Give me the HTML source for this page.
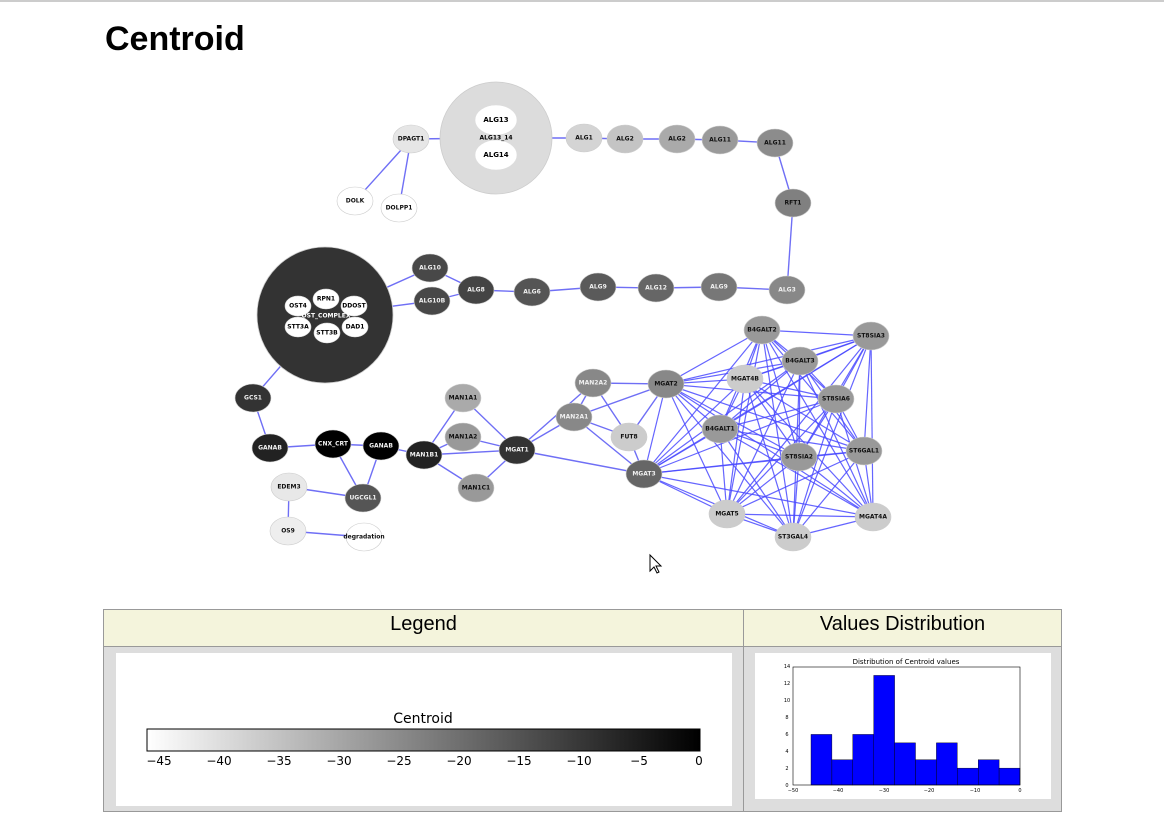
<!DOCTYPE html>
<html><head><meta charset="utf-8"><style>
body{margin:0;width:1164px;height:828px;background:#fff;font-family:"Liberation Sans",sans-serif;position:relative;overflow:hidden}
.top{position:absolute;left:0;top:0;width:1164px;height:2px;background:#ccc}
h1{position:absolute;left:105px;top:20px;margin:0;font-size:34px;font-weight:bold}
svg.net text{font-family:"DejaVu Sans","Liberation Sans",sans-serif;font-weight:bold;font-size:6px;text-anchor:middle;dominant-baseline:central}
svg.bot text{font-family:"DejaVu Sans","Liberation Sans",sans-serif;font-weight:normal;text-anchor:middle}
.tbl{position:absolute;left:103px;top:609px;width:959px;height:203px;border:1px solid #999;box-sizing:border-box;background:#ddd}
.hd{position:absolute;top:0;height:37px;background:#f4f4dc;border-bottom:1px solid #999;font-size:20px;text-align:center;line-height:28px;box-sizing:border-box}
</style></head><body>
<div class="top"></div>
<h1>Centroid</h1>
<svg class="net" width="1164" height="600" style="position:absolute;left:0;top:0">
<g stroke="#6f6ff5" stroke-width="1.4" fill="none" id="edges">
<line x1="411" y1="139" x2="496" y2="138"/><line x1="411" y1="139" x2="355" y2="201"/><line x1="411" y1="139" x2="399" y2="208"/>
<line x1="496" y1="138" x2="584" y2="138"/><line x1="584" y1="138" x2="625" y2="139"/><line x1="625" y1="139" x2="677" y2="139"/>
<line x1="677" y1="139" x2="720" y2="140"/><line x1="720" y1="140" x2="775" y2="143"/><line x1="775" y1="143" x2="793" y2="203"/>
<line x1="793" y1="203" x2="787" y2="290"/><line x1="787" y1="290" x2="719" y2="287"/><line x1="719" y1="287" x2="656" y2="288"/>
<line x1="656" y1="288" x2="598" y2="287"/><line x1="598" y1="287" x2="532" y2="292"/><line x1="532" y1="292" x2="476" y2="290"/>
<line x1="476" y1="290" x2="430" y2="268"/><line x1="476" y1="290" x2="432" y2="301"/><line x1="430" y1="268" x2="325" y2="315"/>
<line x1="432" y1="301" x2="325" y2="315"/><line x1="325" y1="315" x2="253" y2="398"/><line x1="253" y1="398" x2="270" y2="448"/>
<line x1="270" y1="448" x2="333" y2="444"/><line x1="333" y1="444" x2="381" y2="446"/><line x1="381" y1="446" x2="424" y2="455"/>
<line x1="333" y1="444" x2="363" y2="498"/><line x1="381" y1="446" x2="363" y2="498"/><line x1="289" y1="487" x2="363" y2="498"/>
<line x1="289" y1="487" x2="288" y2="531"/><line x1="288" y1="531" x2="364" y2="537"/>
<line x1="424" y1="455" x2="463" y2="398"/><line x1="424" y1="455" x2="463" y2="437"/><line x1="424" y1="455" x2="476" y2="488"/><line x1="424" y1="455" x2="517" y2="450"/>
<line x1="463" y1="398" x2="517" y2="450"/><line x1="463" y1="437" x2="517" y2="450"/><line x1="476" y1="488" x2="517" y2="450"/>
<line x1="517" y1="450" x2="574" y2="417"/><line x1="517" y1="450" x2="593" y2="383"/><line x1="517" y1="450" x2="644" y2="474"/>
<line x1="593" y1="383" x2="666" y2="384"/><line x1="593" y1="383" x2="629" y2="437"/><line x1="593" y1="383" x2="574" y2="417"/>
<line x1="574" y1="417" x2="666" y2="384"/><line x1="574" y1="417" x2="629" y2="437"/><line x1="574" y1="417" x2="644" y2="474"/>
<line x1="629" y1="437" x2="644" y2="474"/><line x1="629" y1="437" x2="666" y2="384"/>
</g>
<g id="clique" stroke="#4a4aff" stroke-width="1.2" stroke-opacity="0.85"></g>
<g stroke="#ccc" stroke-width="0.8">
<circle cx="496" cy="138" r="56" fill="#dcdcdc"/>
<circle cx="325" cy="315" r="68" fill="#333"/>
</g>
<g stroke="#ddd" stroke-width="0.6" fill="#fff">
<ellipse cx="496" cy="120" rx="21" ry="15"/><ellipse cx="496" cy="155" rx="21" ry="15"/>
<ellipse cx="326" cy="299" rx="13" ry="10"/><ellipse cx="354" cy="306" rx="13" ry="10"/><ellipse cx="298" cy="306" rx="13" ry="10"/>
<ellipse cx="298" cy="327" rx="13" ry="10"/><ellipse cx="327" cy="333" rx="13" ry="10"/><ellipse cx="355" cy="327" rx="13" ry="10"/>
</g>
<text x="496" y="120" style="font-size:7px">ALG13</text><text x="496" y="155" style="font-size:7px">ALG14</text><text x="496" y="138">ALG13_14</text>
<text x="326" y="316" fill="#fff" style="font-size:6px">OST_COMPLEX</text>
<g style="font-size:4.5px"><text x="326" y="299">RPN1</text><text x="354" y="306">DDOST</text><text x="298" y="306">OST4</text><text x="298" y="327">STT3A</text><text x="327" y="333">STT3B</text><text x="355" y="327">DAD1</text></g>
<g stroke="#ccc" stroke-width="0.6" id="nodes">
<ellipse cx="411" cy="139" rx="18" ry="14" fill="#e6e6e6"/><ellipse cx="355" cy="201" rx="18" ry="14" fill="#fff"/><ellipse cx="399" cy="208" rx="18" ry="14" fill="#fff"/>
<ellipse cx="584" cy="138" rx="18" ry="14" fill="#d4d4d4"/><ellipse cx="625" cy="139" rx="18" ry="14" fill="#c4c4c4"/><ellipse cx="677" cy="139" rx="18" ry="14" fill="#aaa"/>
<ellipse cx="720" cy="140" rx="18" ry="14" fill="#9a9a9a"/><ellipse cx="775" cy="143" rx="18" ry="14" fill="#8c8c8c"/><ellipse cx="793" cy="203" rx="18" ry="14" fill="#808080"/>
<ellipse cx="787" cy="290" rx="18" ry="14" fill="#888"/><ellipse cx="719" cy="287" rx="18" ry="14" fill="#777"/><ellipse cx="656" cy="288" rx="18" ry="14" fill="#666"/>
<ellipse cx="598" cy="287" rx="18" ry="14" fill="#5a5a5a"/><ellipse cx="532" cy="292" rx="18" ry="14" fill="#555"/><ellipse cx="476" cy="290" rx="18" ry="14" fill="#444"/>
<ellipse cx="430" cy="268" rx="18" ry="14" fill="#484848"/><ellipse cx="432" cy="301" rx="18" ry="14" fill="#484848"/>
<ellipse cx="253" cy="398" rx="18" ry="14" fill="#333"/><ellipse cx="270" cy="448" rx="18" ry="14" fill="#222"/><ellipse cx="333" cy="444" rx="18" ry="14" fill="#000"/>
<ellipse cx="381" cy="446" rx="18" ry="14" fill="#000"/><ellipse cx="424" cy="455" rx="18" ry="14" fill="#222"/><ellipse cx="363" cy="498" rx="18" ry="14" fill="#555"/>
<ellipse cx="289" cy="487" rx="18" ry="14" fill="#e8e8e8"/><ellipse cx="288" cy="531" rx="18" ry="14" fill="#eee"/><ellipse cx="364" cy="537" rx="18" ry="14" fill="#fff"/>
<ellipse cx="463" cy="398" rx="18" ry="14" fill="#aaa"/><ellipse cx="463" cy="437" rx="18" ry="14" fill="#999"/><ellipse cx="476" cy="488" rx="18" ry="14" fill="#999"/>
<ellipse cx="517" cy="450" rx="18" ry="14" fill="#333"/><ellipse cx="593" cy="383" rx="18" ry="14" fill="#888"/><ellipse cx="574" cy="417" rx="18" ry="14" fill="#888"/>
<ellipse cx="629" cy="437" rx="18" ry="14" fill="#ccc"/><ellipse cx="644" cy="474" rx="18" ry="14" fill="#666"/><ellipse cx="666" cy="384" rx="18" ry="14" fill="#888"/>
<ellipse cx="745" cy="379" rx="18" ry="14" fill="#ccc"/><ellipse cx="762" cy="330" rx="18" ry="14" fill="#999"/><ellipse cx="871" cy="336" rx="18" ry="14" fill="#999"/>
<ellipse cx="800" cy="361" rx="18" ry="14" fill="#999"/><ellipse cx="836" cy="399" rx="18" ry="14" fill="#999"/><ellipse cx="720" cy="429" rx="18" ry="14" fill="#999"/>
<ellipse cx="799" cy="457" rx="18" ry="14" fill="#999"/><ellipse cx="864" cy="451" rx="18" ry="14" fill="#999"/><ellipse cx="727" cy="514" rx="18" ry="14" fill="#ccc"/>
<ellipse cx="793" cy="537" rx="18" ry="14" fill="#ccc"/><ellipse cx="873" cy="517" rx="18" ry="14" fill="#ccc"/>
</g>
<g fill="#111">
<text x="411" y="139">DPAGT1</text><text x="355" y="201">DOLK</text><text x="399" y="208">DOLPP1</text>
<text x="584" y="138">ALG1</text><text x="625" y="139">ALG2</text><text x="677" y="139">ALG2</text><text x="720" y="140">ALG11</text><text x="775" y="143">ALG11</text><text x="793" y="203">RFT1</text>
<text x="289" y="487">EDEM3</text><text x="288" y="531">OS9</text><text x="364" y="537">degradation</text>
<text x="463" y="398">MAN1A1</text><text x="463" y="437">MAN1A2</text><text x="476" y="488">MAN1C1</text><text x="629" y="437">FUT8</text><text x="666" y="384">MGAT2</text><text x="745" y="379">MGAT4B</text>
<text x="762" y="330">B4GALT2</text><text x="871" y="336">ST8SIA3</text><text x="800" y="361">B4GALT3</text><text x="836" y="399">ST8SIA6</text><text x="720" y="429">B4GALT1</text>
<text x="799" y="457">ST8SIA2</text><text x="864" y="451">ST6GAL1</text><text x="727" y="514">MGAT5</text><text x="793" y="537">ST3GAL4</text><text x="873" y="517">MGAT4A</text>
</g>
<g fill="#f0f0f0">
<text x="787" y="290">ALG3</text><text x="719" y="287">ALG9</text><text x="656" y="288">ALG12</text><text x="598" y="287">ALG9</text><text x="532" y="292">ALG6</text><text x="476" y="290">ALG8</text>
<text x="430" y="268">ALG10</text><text x="432" y="301">ALG10B</text><text x="253" y="398">GCS1</text><text x="270" y="448">GANAB</text><text x="333" y="444">CNX_CRT</text><text x="381" y="446">GANAB</text>
<text x="424" y="455">MAN1B1</text><text x="363" y="498">UGCGL1</text><text x="517" y="450">MGAT1</text><text x="593" y="383">MAN2A2</text><text x="574" y="417">MAN2A1</text><text x="644" y="474">MGAT3</text>
</g>
</svg>
<div class="tbl">
<div class="hd" style="left:0;width:640px;border-right:1px solid #999">Legend</div>
<div class="hd" style="left:640px;width:317px">Values Distribution</div>
<div style="position:absolute;left:639px;top:37px;width:1px;height:165px;background:#999"></div>
<div style="position:absolute;left:12px;top:43px;width:616px;height:153px;background:#fff"></div>
<div style="position:absolute;left:651px;top:43px;width:296px;height:146px;background:#fff"></div>
</div>
<svg class="bot" width="1164" height="828" style="position:absolute;left:0;top:0">
<defs><linearGradient id="g"><stop offset="0" stop-color="#fff"/><stop offset="1" stop-color="#000"/></linearGradient></defs>
<text x="423" y="723" font-size="14">Centroid</text>
<rect x="147" y="729" width="553" height="22" fill="url(#g)" stroke="#000" stroke-width="1"/>
<g font-size="12">
<text x="159" y="765">−45</text><text x="219" y="765">−40</text><text x="279" y="765">−35</text><text x="339" y="765">−30</text><text x="399" y="765">−25</text><text x="459" y="765">−20</text><text x="519" y="765">−15</text><text x="579" y="765">−10</text><text x="639" y="765">−5</text><text x="699" y="765">0</text>
</g>
<text x="906" y="664" font-size="7">Distribution of Centroid values</text>
<g fill="#0000ff" stroke="#000" stroke-width="0.4" id="bars"></g>
<rect x="793" y="667" width="227" height="118" fill="none" stroke="#000" stroke-width="0.6"/>
<g font-size="5">
<text x="793" y="792">−50</text><text x="838" y="792">−40</text><text x="884" y="792">−30</text><text x="929" y="792">−20</text><text x="975" y="792">−10</text><text x="1020" y="792">0</text>
<text x="787" y="787">0</text><text x="787" y="770">2</text><text x="787" y="753">4</text><text x="787" y="736">6</text><text x="787" y="719">8</text><text x="787" y="702">10</text><text x="787" y="685">12</text><text x="787" y="668">14</text>
</g>
<path d="M650 555 l0 16 l4 -4 l3 6 l2 -1 l-3 -6 l5 0 z" fill="#fff" stroke="#000" stroke-width="1"/>
</svg>
<script>
var P=[[666,384],[745,379],[762,330],[871,336],[800,361],[836,399],[720,429],[799,457],[864,451],[727,514],[793,537],[873,517],[644,474]];
var g=document.getElementById('clique'),s='';
for(var i=0;i<P.length;i++)for(var j=i+1;j<P.length;j++){if(i==12&&(j<2||j==3))continue;s+='<line x1="'+P[i][0]+'" y1="'+P[i][1]+'" x2="'+P[j][0]+'" y2="'+P[j][1]+'"/>';}
g.innerHTML=s;
var H=[6,3,6,13,5,3,5,2,3,2],b='',u=118/14,w=20.9;
for(var k=0;k<10;k++){var h=H[k]*u;b+='<rect x="'+(811+k*w)+'" y="'+(785-h)+'" width="'+w+'" height="'+h+'"/>';}
document.getElementById('bars').innerHTML=b;
</script>
</body></html>
